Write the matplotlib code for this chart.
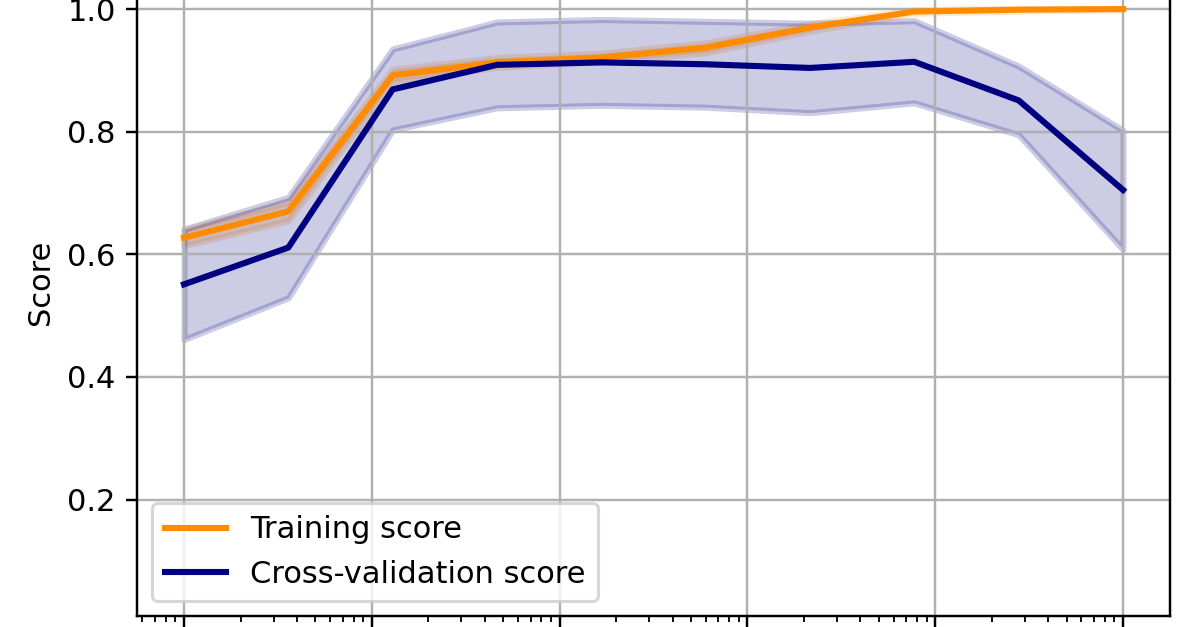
import numpy as np
import matplotlib
matplotlib.use("Agg")
import matplotlib.pyplot as plt

# gamma values (log scale) and scores
param_range = np.logspace(-6, -1, 10)
train_mean = [0.627, 0.670, 0.892, 0.913, 0.921, 0.937, 0.970, 0.996, 0.999, 1.000]
train_std = [0.013, 0.015, 0.010, 0.008, 0.007, 0.008, 0.006, 0.003, 0.002, 0.001]
cv_mean = [0.551, 0.611, 0.869, 0.909, 0.913, 0.910, 0.904, 0.914, 0.851, 0.705]
cv_std = [0.090, 0.082, 0.066, 0.070, 0.070, 0.070, 0.073, 0.067, 0.056, 0.097]

train_mean = np.array(train_mean)
train_std = np.array(train_std)
cv_mean = np.array(cv_mean)
cv_std = np.array(cv_std)

fig = plt.figure(figsize=(1200 / 220, 627 / 220), dpi=220)
# the reference is a crop: title and x tick labels fall outside the canvas
ax = fig.add_axes([0.1142, 0.0175, 0.8608, 1.0658])

lw = 2
ax.semilogx(param_range, train_mean, label="Training score", color="darkorange", lw=lw)
ax.fill_between(param_range, train_mean - train_std, train_mean + train_std,
                alpha=0.2, color="darkorange", lw=lw)
ax.semilogx(param_range, cv_mean, label="Cross-validation score", color="navy", lw=lw)
ax.fill_between(param_range, cv_mean - cv_std, cv_mean + cv_std,
                alpha=0.2, color="navy", lw=lw)

ax.set_ylim(0.01, 1.1)
ax.set_yticks([0.2, 0.4, 0.6, 0.8, 1.0])
ax.set_ylabel("Score")
# x tick labels sit below the crop in the reference, only the tick marks show
ax.tick_params(axis="x", which="both", labelbottom=False)
ax.grid(True)
ax.legend(loc="lower left")

fig.savefig("out.png", dpi=220)
